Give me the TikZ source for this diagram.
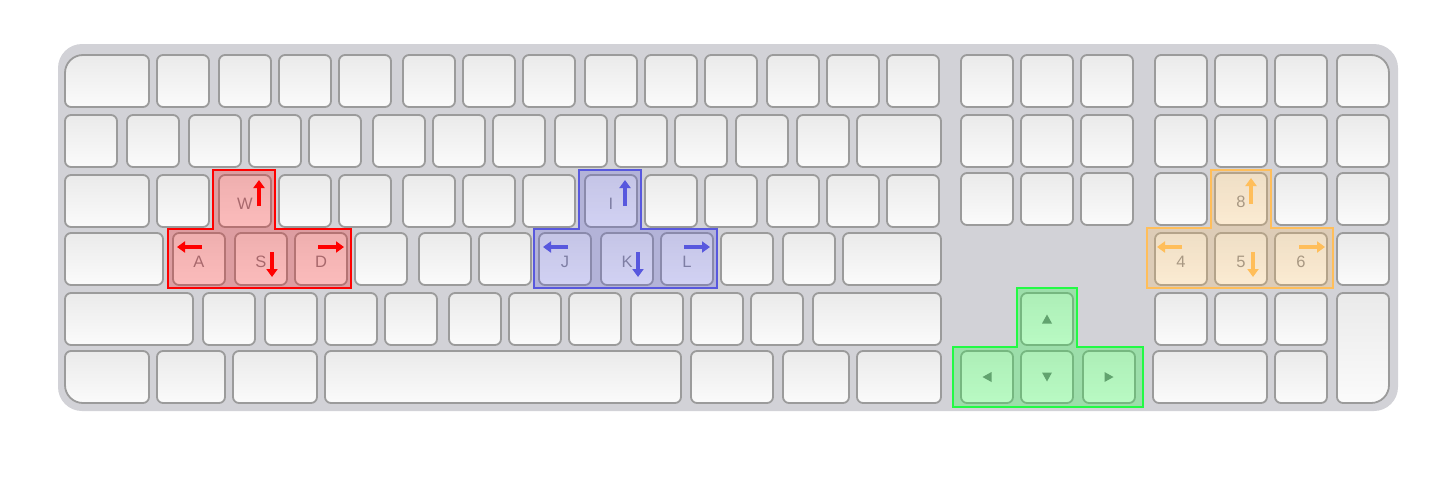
\documentclass[tikz,border=0pt]{standalone}
\usepackage{fontspec}
\setmainfont{Liberation Sans}
\usetikzlibrary{arrows.meta}
\definecolor{kbBody}{RGB}{210,210,215}
\definecolor{keyEdge}{RGB}{155,155,155}
\definecolor{keyTop}{RGB}{234,234,234}
\definecolor{keyBottom}{RGB}{251,251,251}
\definecolor{keyText}{RGB}{140,140,145}
\definecolor{wasdRed}{RGB}{255,0,0}
\definecolor{ijklBlue}{RGB}{88,88,222}
\definecolor{numOrange}{RGB}{255,190,90}
\definecolor{arrowGreen}{RGB}{34,250,68}

\begin{document}
\begin{tikzpicture}[x=1pt, y=-1pt,
  keycap/.style={draw=keyEdge, line width=1.8pt, rounded corners=6pt, top color=keyTop, bottom color=keyBottom},
  bigcap/.style={keycap, sharp corners},
  keynode/.style={keycap, minimum width=52pt, minimum height=52pt, inner sep=0pt, text height=16pt, text depth=0pt, text=keyText, font=\fontsize{16.5}{18}\selectfont},
  zone/.style={fill=#1, fill opacity=.25, draw=#1, line width=2pt},
  arr/.style={line width=4pt, -{Triangle[width=11pt,length=8pt]}},
  tri/.style={fill=keyText!90!black}]
 	\useasboundingbox (0,0) rectangle (1444,480);
 	\fill[kbBody, rounded corners=24pt] (58,44) rectangle (1398,411);
 	\foreach \a/\b in {157/209,219/271,279/331,339/391,403/455,463/515,523/575,585/637,645/697,705/757,767/819,827/879,887/939,961/1013,1021/1073,1081/1133,1155/1207,1215/1267,1275/1327}
 		\draw[keycap] (\a,55) rectangle (\b,107);
 	\foreach \a/\b in {65/117,127/179,189/241,249/301,309/361,373/425,433/485,493/545,555/607,615/667,675/727,736/788,797/849,857/941,961/1013,1021/1073,1081/1133,1155/1207,1215/1267,1275/1327,1337/1389}
 		\draw[keycap] (\a,115) rectangle (\b,167);
 	\foreach \a/\b in {65/149,157/209,279/331,339/391,403/455,463/515,523/575,645/697,705/757,767/819,827/879,887/939}
 		\draw[keycap] (\a,175) rectangle (\b,227);
 	\foreach \a/\b in {961/1013,1021/1073,1081/1133,1155/1207,1275/1327,1337/1389}
 		\draw[keycap] (\a,173) rectangle (\b,225);
 	\foreach \a/\b in {65/163,355/407,419/471,479/531,721/773,783/835,843/941,1337/1389}
 		\draw[keycap] (\a,233) rectangle (\b,285);
 	\foreach \a/\b in {65/193,203/255,265/317,325/377,385/437,449/501,509/561,569/621,631/683,691/743,751/803,813/941,1155/1207,1215/1267,1275/1327}
 		\draw[keycap] (\a,293) rectangle (\b,345);
 	\foreach \a/\b in {157/225,233/317,325/681,691/773,783/849,857/941,1153/1267,1275/1327}
 		\draw[keycap] (\a,351) rectangle (\b,403);
 	\draw[bigcap] (65,73) .. controls (65,63) and (73,55) .. (83,55) -- (143,55) .. controls (146.3,55) and (149,57.7) .. (149,61) -- (149,101) .. controls (149,104.3) and (146.3,107) .. (143,107) -- (71,107) .. controls (67.7,107) and (65,104.3) .. (65,101) -- cycle;
 	\draw[bigcap] (1389,73) .. controls (1389,63) and (1381,55) .. (1371,55) -- (1343,55) .. controls (1339.7,55) and (1337,57.7) .. (1337,61) -- (1337,101) .. controls (1337,104.3) and (1339.7,107) .. (1343,107) -- (1383,107) .. controls (1386.3,107) and (1389,104.3) .. (1389,101) -- cycle;
 	\draw[bigcap] (65,385) .. controls (65,395) and (73,403) .. (83,403) -- (143,403) .. controls (146.3,403) and (149,400.3) .. (149,397) -- (149,357) .. controls (149,353.7) and (146.3,351) .. (143,351) -- (71,351) .. controls (67.7,351) and (65,353.7) .. (65,357) -- cycle;
 	\draw[bigcap] (1389,385) .. controls (1389,395) and (1381,403) .. (1371,403) -- (1343,403) .. controls (1339.7,403) and (1337,400.3) .. (1337,397) -- (1337,299) .. controls (1337,295.7) and (1339.7,293) .. (1343,293) -- (1383,293) .. controls (1386.3,293) and (1389,295.7) .. (1389,299) -- cycle;
 	\node[keynode] (keyW) at (245,201) {W};
 	\node[keynode] (keyA) at (199,259) {A};
 	\node[keynode] (keyS) at (261,259) {S};
 	\node[keynode] (keyD) at (321,259) {D};
 	\node[keynode] (keyI) at (611,201) {I};
 	\node[keynode] (keyJ) at (565,259) {J};
 	\node[keynode] (keyK) at (627,259) {K};
 	\node[keynode] (keyL) at (687,259) {L};
 	\node[keynode] (num8) at (1241,199) {8};
 	\node[keynode] (num4) at (1181,259) {4};
 	\node[keynode] (num5) at (1241,259) {5};
 	\node[keynode] (num6) at (1301,259) {6};
 	\node[keynode] (arUp) at (1047,319) {};
 	\node[keynode] (arLeft) at (987,377) {};
 	\node[keynode] (arDown) at (1047,377) {};
 	\node[keynode] (arRight) at (1109,377) {};
 	\fill[tri] ([shift={(0,-4.5)}]arUp.center) -- ++(5,9) -- ++(-10,0) -- cycle;
 	\fill[tri] ([shift={(0,4.5)}]arDown.center) -- ++(5,-9) -- ++(-10,0) -- cycle;
 	\fill[tri] ([shift={(-4.5,0)}]arLeft.center) -- ++(9,5) -- ++(0,-10) -- cycle;
 	\fill[tri] ([shift={(4.5,0)}]arRight.center) -- ++(-9,5) -- ++(0,-10) -- cycle;
 	\draw[zone=wasdRed] (213,170) -- (275,170) -- (275,229) -- (351,229) -- (351,288) -- (168,288) -- (168,229) -- (213,229) -- cycle;
 	\draw[zone=ijklBlue] (579,170) -- (641,170) -- (641,229) -- (717,229) -- (717,288) -- (534,288) -- (534,229) -- (579,229) -- cycle;
 	\draw[zone=numOrange] (1211,170) -- (1271,170) -- (1271,228) -- (1333,228) -- (1333,288) -- (1147,288) -- (1147,228) -- (1211,228) -- cycle;
 	\draw[zone=arrowGreen, fill opacity=.3] (1017,288) -- (1077,288) -- (1077,347) -- (1143,347) -- (1143,407) -- (953,407) -- (953,347) -- (1017,347) -- cycle;
 	\draw[arr, wasdRed] ([shift={(14,5)}]keyW.center) -- ++(0,-26);
 	\draw[arr, wasdRed] ([shift={(3,-12)}]keyA.center) -- ++(-25,0);
 	\draw[arr, wasdRed] ([shift={(11,-7)}]keyS.center) -- ++(0,25);
 	\draw[arr, wasdRed] ([shift={(-3,-12)}]keyD.center) -- ++(26,0);
 	\draw[arr, ijklBlue] ([shift={(14,5)}]keyI.center) -- ++(0,-26);
 	\draw[arr, ijklBlue] ([shift={(3,-12)}]keyJ.center) -- ++(-25,0);
 	\draw[arr, ijklBlue] ([shift={(11,-7)}]keyK.center) -- ++(0,25);
 	\draw[arr, ijklBlue] ([shift={(-3,-12)}]keyL.center) -- ++(26,0);
 	\draw[arr, numOrange] ([shift={(10,5)}]num8.center) -- ++(0,-26);
 	\draw[arr, numOrange] ([shift={(1,-12)}]num4.center) -- ++(-25,0);
 	\draw[arr, numOrange] ([shift={(12,-7)}]num5.center) -- ++(0,25);
 	\draw[arr, numOrange] ([shift={(-2,-12)}]num6.center) -- ++(26,0);
\end{tikzpicture}
\end{document}
